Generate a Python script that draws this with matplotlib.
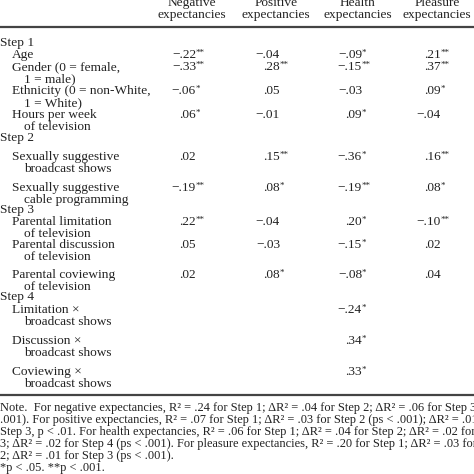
import matplotlib.pyplot as plt

plt.rcParams['font.family'] = ['Liberation Serif', 'DejaVu Serif']

columns = ["Negative\nexpectancies", "Positive\nexpectancies", "Health\nexpectancies", "Pleasure\nexpectancies"]

# (label lines, indent level, values per column) ; None = header row
rows = [
    (["Step 1"], 0, None),
    (["Age"], 1, ["−.22**", "−.04", "−.09*", ".21**"]),
    (["Gender (0 = female,", "1 = male)"], 1, ["−.33**", ".28**", "−.15**", ".37**"]),
    (["Ethnicity (0 = non-White,", "1 = White)"], 1, ["−.06*", ".05", "−.03", ".09*"]),
    (["Hours per week", "of television"], 1, [".06*", "−.01", ".09*", "−.04"]),
    (["Step 2"], 0, None),
    (["Sexually suggestive", "broadcast shows"], 1, [".02", ".15**", "−.36*", ".16**"]),
    (["Sexually suggestive", "cable programming"], 1, ["−.19**", ".08*", "−.19**", ".08*"]),
    (["Step 3"], 0, None),
    (["Parental limitation", "of television"], 1, [".22**", "−.04", ".20*", "−.10**"]),
    (["Parental discussion", "of television"], 1, [".05", "−.03", "−.15*", ".02"]),
    (["Parental coviewing", "of television"], 1, [".02", ".08*", "−.08*", ".04"]),
    (["Step 4"], 0, None),
    (["Limitation ×", "broadcast shows"], 1, ["", "", "−.24*", ""]),
    (["Discussion ×", "broadcast shows"], 1, ["", "", ".34*", ""]),
    (["Coviewing ×", "broadcast shows"], 1, ["", "", ".33*", ""]),
]
row_y = [43, 55, 67, 91, 115, 138, 157, 188, 210, 222, 245, 275, 297, 310, 341, 372]

note_lines = [
    "Note.  For negative expectancies, R² = .24 for Step 1; ΔR² = .04 for Step 2; ΔR² = .06 for Step 3 (ps <",
    ".001). For positive expectancies, R² = .07 for Step 1; ΔR² = .03 for Step 2 (ps < .001); ΔR² = .01 for",
    "Step 3, p < .01. For health expectancies, R² = .06 for Step 1; ΔR² = .04 for Step 2; ΔR² = .02 for Step",
    "3; ΔR² = .02 for Step 4 (ps < .001). For pleasure expectancies, R² = .20 for Step 1; ΔR² = .03 for Step",
    "2; ΔR² = .01 for Step 3 (ps < .001).",
    "*p < .05. **p < .001.",
]

col_x = [192, 276, 358, 437]
fs = 9.6

fig = plt.figure(figsize=(4.74, 4.74), dpi=100)
ax = fig.add_axes([0, 0, 1, 1])
ax.set_xlim(0, 474)
ax.set_ylim(474, 0)
ax.axis('off')

for x, name in zip(col_x, columns):
    top, bottom = name.split("\n")
    ax.text(x, 3, top, ha='center', va='center', fontsize=fs, color='#222222')
    ax.text(x, 15, bottom, ha='center', va='center', fontsize=fs, color='#222222')
ax.plot([0, 474], [27, 27], color='#444444', lw=1.6)

for (labels, indent, vals), y in zip(rows, row_y):
    for j, lab in enumerate(labels):
        x = 0 + indent * 12 + (12 if j > 0 else 0)
        ax.text(x, y + j * 12, lab, ha='left', va='center', fontsize=fs, color='#222222')
    if vals:
        for x, v in zip(col_x, vals):
            num = v.rstrip("*")
            stars = v[len(num):]
            ax.text(x + 4, y, num, ha='right', va='center', fontsize=fs, color='#222222')
            if stars:
                ax.text(x + 4, y - 2, stars, ha='left', va='center', fontsize=6.5, color='#222222')

ax.plot([0, 474], [395, 395], color='#444444', lw=1.6)

for i, line in enumerate(note_lines):
    ax.text(0, 408 + i * 12, line, ha='left', va='center', fontsize=8.9, color='#222222')

fig.savefig("out.png", dpi=100)
